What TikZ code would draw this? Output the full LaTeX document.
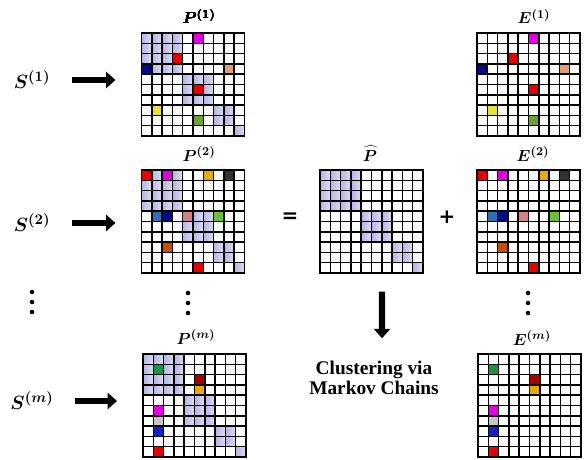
\documentclass[tikz,border=0pt]{standalone}
\usepackage{fontspec}
\setmainfont{Liberation Serif}
\newfontfamily\dejabold{DejaVu Sans}[BoldFont=DejaVu Sans Bold]
\usepackage{bm}
\usetikzlibrary{arrows.meta}

\definecolor{blk}{RGB}{180,180,226}
\definecolor{cmag}{RGB}{225,0,225}
\definecolor{cred}{RGB}{230,0,0}
\definecolor{cnavy}{RGB}{0,10,130}
\definecolor{cpeach}{RGB}{225,160,115}
\definecolor{cyel}{RGB}{230,225,60}
\definecolor{colive}{RGB}{110,160,50}
\definecolor{cgold}{RGB}{235,170,0}
\definecolor{cdark}{RGB}{50,50,50}
\definecolor{csteel}{RGB}{50,110,180}
\definecolor{cpink}{RGB}{210,130,130}
\definecolor{cgrn}{RGB}{110,190,60}
\definecolor{cbrown}{RGB}{200,80,0}
\definecolor{cemer}{RGB}{20,150,70}
\definecolor{cdred}{RGB}{170,0,0}
\definecolor{cgray}{RGB}{200,200,200}
\definecolor{cblue}{RGB}{20,30,210}

\newcommand{\Mat}[2]{$\bm{#1}^{\bm{(#2)}}$}
\newcommand{\cs}{10.3}
% shaded diagonal blocks of a 10x10 matrix node
\newcommand{\diagblocks}[1]{%
  \begin{scope}[shift={(#1.north west)}]
    \foreach \lo/\hi in {0/3,4/6,7/8,9/9}
      \foreach \r in {\lo,...,\hi}
        \foreach \c in {\lo,...,\hi}
          \fill[block] (\c*\cs,\r*\cs) rectangle ++(\cs,\cs);
  \end{scope}}
% coloured entries, given as row/col/colour
\newcommand{\entries}[2]{%
  \begin{scope}[shift={(#1.north west)}]
    \foreach \r/\c/\col in {#2}
      \fill[\col] (\c*\cs,\r*\cs) rectangle ++(\cs,\cs);
  \end{scope}}
% the grid lines
\newcommand{\gridlines}[1]{%
  \begin{scope}[shift={(#1.north west)}]
    \foreach \i in {0,...,10} {
      \draw[gridline] (\i*\cs,0) -- ++(0,10*\cs);
      \draw[gridline] (0,\i*\cs) -- ++(10*\cs,0);
    }
  \end{scope}}

\begin{document}
\begin{tikzpicture}[
    x=0.75pt, y=-0.75pt,
    mat/.style={minimum size=77.25pt, inner sep=0pt, outer sep=0pt},
    lbl/.style={anchor=base, inner sep=0pt, font=\fontsize{13}{15}\selectfont},
    src/.style={inner sep=0pt, font=\fontsize{15}{17}\selectfont},
    op/.style={inner sep=0pt, font=\fontsize{15}{17}\selectfont\dejabold\bfseries},
    gridline/.style={line width=1.1pt, line cap=rect},
    block/.style={left color=blk, right color=blk!45!white},
    fat/.style={line width=5pt, -{Triangle[length=7pt,width=12pt]}},
    dot/.style={fill=black}
  ]
  \useasboundingbox (0,0) rectangle (585,460);
  % Place the matrices.
  \node[mat] (P1) at (193,84.5) {};
  \node[mat] (E1) at (528.5,84.5) {};
  \node[mat] (P2) at (193,221.5) {};
  \node[mat] (Ph) at (371.5,221.5) {};
  \node[mat] (E2) at (528.5,221.5) {};
  \node[mat] (Pm) at (194.5,405.5) {};
  \node[mat] (Em) at (529.5,405.5) {};
  % Shade the diagonal blocks.
  \diagblocks{P1}
  \diagblocks{P2}
  \diagblocks{Ph}
  \diagblocks{Pm}
  % Colour the outliers.
  \entries{P1}{0/5/cmag,2/3/cred,3/0/cnavy,3/8/cpeach,5/5/cred,7/1/cyel,8/5/colive}
  \entries{E1}{0/5/cmag,2/3/cred,3/0/cnavy,3/8/cpeach,5/5/cred,7/1/cyel,8/5/colive}
  \entries{P2}{0/0/cred,0/2/cmag,0/6/cgold,0/8/cdark,4/1/csteel,4/2/cnavy,4/4/cpink,4/7/cgrn,7/2/cbrown,9/5/cred}
  \entries{E2}{0/0/cred,0/2/cmag,0/6/cgold,0/8/cdark,4/1/csteel,4/2/cnavy,4/4/cpink,4/7/cgrn,7/2/cbrown,9/5/cred}
  \entries{Pm}{1/1/cemer,2/5/cdred,3/5/cgold,5/1/cmag,6/1/cgray,7/1/cblue,9/1/cred}
  \entries{Em}{1/1/cemer,2/5/cdred,3/5/cgold,5/1/cmag,6/1/cgray,7/1/cblue,9/1/cred}
  % Draw the grids.
  \foreach \m in {P1,E1,P2,Ph,E2,Pm,Em}
    \gridlines{\m}
  % Label the matrices.
  \node[lbl] (LP1) at (199,24) {\Mat{P}{1}};
  \node[lbl] (LE1) at (534,24) {\Mat{E}{1}};
  \node[lbl] (LP2) at (199,161) {\Mat{P}{2}};
  \node[lbl] (LPh) at (370,161) {$\bm{\widehat{P}}$};
  \node[lbl] (LE2) at (533,161) {\Mat{E}{2}};
  \node[lbl] (LPm) at (196,344) {\Mat{P}{m}};
  \node[lbl] (LEm) at (532,345) {\Mat{E}{m}};
  % The sequences and their arrows.
  \node[src] (S1) at (32,80) {\Mat{S}{1}};
  \node[src] (S2) at (32,223) {\Mat{S}{2}};
  \node[src] (Sm) at (32,401) {\Mat{S}{m}};
  \foreach \s/\p in {S1/P1,S2/P2,Sm/Pm}
    \draw[fat, shorten <=16pt, shorten >=19.5pt] (\s.east) -- (\s.east -| \p.west);
  % Equals and plus.
  \node[op] (eq) at (290,218) {=};
  \node[op] (plus) at (447,217) {+};
  % Clustering step.
  \node[inner sep=0pt, align=center, font=\fontsize{14.5}{15}\selectfont\bfseries] (clust) at (374,378)
    {Clustering via\\Markov Chains};
  \draw[fat, line width=4.8pt, shorten <=14pt, shorten >=17pt]
    ([xshift=7.9pt]Ph.south) -- ([xshift=6pt]clust.north);
  % The dots.
  \foreach \x/\y in {32/292,188/293,528/293}
    \foreach \k in {0,1,2}
      \fill[dot] (\x,\y+\k*10) circle[radius=1.7pt];
\end{tikzpicture}
\end{document}
